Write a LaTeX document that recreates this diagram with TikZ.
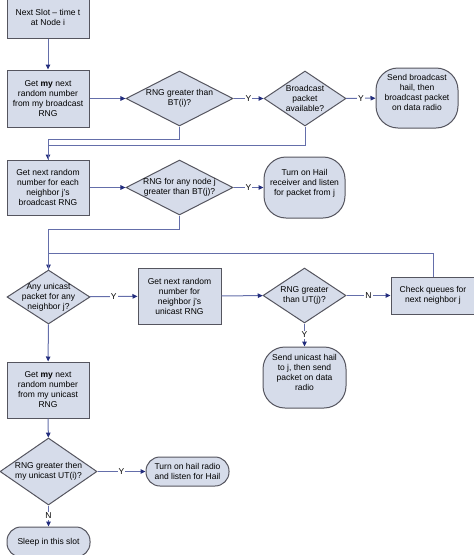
\documentclass[tikz,border=0pt]{standalone}
\usepackage{fontspec}
\setmainfont{Liberation Sans}
\usetikzlibrary{shapes.geometric,arrows.meta}
\definecolor{boxfill}{RGB}{214,220,234}
\definecolor{boxline}{RGB}{85,85,95}
\definecolor{flowline}{RGB}{100,110,170}
\definecolor{tipcol}{RGB}{35,45,125}
\begin{document}
\begin{tikzpicture}[x=1pt,y=-1pt,
    font=\fontsize{8.5}{10}\selectfont,
    proc/.style={draw=boxline,fill=boxfill,line width=1pt,align=center,inner sep=0pt},
    term/.style={proc,rounded corners=#1},
    term/.default=14pt,
    tallterm/.style={proc,rounded corners=22pt,text depth=11pt},
    dec/.style={diamond,draw=boxline,fill=boxfill,line width=1pt,inner sep=0pt},
    flow/.style={draw=flowline,line width=1pt,-{Triangle[length=5pt,width=4.5pt,color=tipcol]}},
    link/.style={draw=flowline,line width=1pt},
    yn/.style={fill=white,inner sep=1pt}]
    \useasboundingbox (0,0) rectangle (474,555);
    % Broadcast slot
    \node[proc,minimum width=82,minimum height=42] (start) at (48,17) {Next Slot -- time t\\at Node i};
    \node[proc,minimum width=82,minimum height=57] (mybc) at (48,98.5) {Get \textbf{my} next\\random number\\from my broadcast\\RNG};
    \node[dec,minimum width=107,minimum height=55,
        label={[align=center]center:RNG greater than\\BT(i)?}] (bti) at (179.5,98.5) {};
    \node[dec,minimum width=82,minimum height=55,
        label={[align=center]center:Broadcast\\packet\\available?}] (bpkt) at (305,98.5) {};
    \node[tallterm,minimum width=82,minimum height=60] (sendbc) at (417,98) {Send broadcast\\hail, then\\broadcast packet\\on data radio};
    % Neighbours broadcast
    \node[proc,minimum width=82,minimum height=55] (nbrbc) at (48,187.5) {Get next random\\number for each\\neighbor j's\\broadcast RNG};
    \node[dec,minimum width=107,minimum height=55,
        label={[align=center]center:RNG for any node j\\greater than BT(j)?}] (btj) at (179.5,187.5) {};
    \node[tallterm,minimum width=81,minimum height=61] (hailrx) at (304.5,187.5) {Turn on Hail\\receiver and listen\\for packet from j};
    % Unicast to neighbours
    \node[dec,minimum width=83,minimum height=54,
        label={[align=center]center:Any unicast\\packet for any\\neighbor j?}] (anyuc) at (48.5,297) {};
    \node[proc,minimum width=83,minimum height=56] (nbruc) at (179.5,296) {Get next random\\number for\\neighbor j's\\unicast RNG};
    \node[dec,minimum width=83,minimum height=55,
        label={[align=center]center:RNG greater\\than UT(j)?}] (utj) at (304.5,295.5) {};
    \node[proc,minimum width=84,minimum height=37] (chkq) at (433,295.5) {Check queues for\\next neighbor j};
    \node[tallterm,minimum width=83,minimum height=61] (senduc) at (304.5,377.5) {Send unicast hail\\to j, then send\\packet on data\\radio};
    % Own unicast
    \node[proc,minimum width=82,minimum height=56] (myuc) at (48,390) {Get \textbf{my} next\\random number\\from my unicast\\RNG};
    \node[dec,minimum width=97,minimum height=67,
        label={[align=center]center:RNG greater then\\my unicast UT(i)?}] (uti) at (48.5,471.5) {};
    \node[term,minimum width=83,minimum height=29] (hailradio) at (187.5,471.5) {Turn on hail radio\\and listen for Hail};
    \node[term,minimum width=83,minimum height=30] (sleep) at (48.5,542) {Sleep in this slot};
    % Connectors
    \draw[flow] (start) -- (mybc);
    \draw[flow] (mybc) -- (bti);
    \draw[flow] (bti) -- node[yn] {Y} (bpkt);
    \draw[flow] (bpkt) -- node[yn] {Y} (sendbc);
    \draw[flow] (bti.south) -- ++(0,13) -| (nbrbc.north);
    \draw[link] (bpkt.south) -- ++(0,19) -| (nbrbc.north);
    \draw[flow] (nbrbc) -- (btj);
    \draw[flow] (btj) -- node[yn] {Y} (hailrx);
    \draw[flow] (btj.south) -- ++(0,14) -| (anyuc.north);
    \draw[link] (chkq.north) -- ++(0,-23) -| (anyuc.north);
    \draw[flow] (anyuc) -- node[yn] {Y} (nbruc);
    \draw[flow] (nbruc) -- (utj);
    \draw[flow] (utj) -- node[yn] {N} (chkq);
    \draw[flow] (utj) -- node[yn] {Y} (senduc);
    \draw[flow] (anyuc) -- (myuc);
    \draw[flow] (myuc) -- (uti);
    \draw[flow] (uti) -- node[yn] {Y} (hailradio);
    \draw[flow] (uti) -- node[yn] {N} (sleep);
\end{tikzpicture}
\end{document}
